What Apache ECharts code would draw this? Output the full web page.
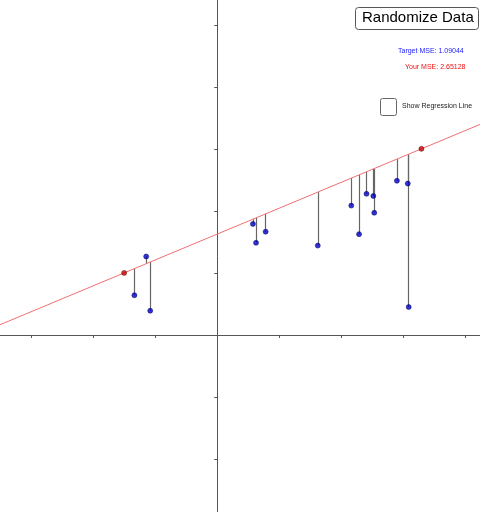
<!DOCTYPE html>
<html>
<head>
<meta charset="utf-8">
<script src="https://cdn.jsdelivr.net/npm/echarts@6/dist/echarts.min.js"></script>
<style>
  html, body { margin: 0; padding: 0; background: #fff; }
  #chart { width: 480px; height: 512px; }
</style>
</head>
<body>
<div id="chart"></div>
<script>
// data points
const pointX = [-2.67, -2.29, -2.16, 1.15, 1.25, 1.56, 3.24, 4.32, 4.57, 4.81, 5.03, 5.06, 5.79, 6.14, 6.17];
const pointY = [1.28, 2.53, 0.78, 3.58, 2.97, 3.33, 2.88, 4.17, 3.25, 4.55, 4.48, 3.94, 4.97, 4.88, 0.90];
// the two red handles defining the user's line
const handleX = [-3, 6.58];
const handleY = [2, 6];

const slope = (handleY[1] - handleY[0]) / (handleX[1] - handleX[0]);
const lineAt = (x) => handleY[0] + slope * (x - handleX[0]);

// axis ranges start beyond the view (grid pulled off-canvas) so ticks fall on even numbers
const xMin = -8, xMax = 8.5, yMin = -6, yMax = 10.8;

var chart = echarts.init(document.getElementById("chart"));

const axisStyle = { lineStyle: { color: "#555", width: 1 }, onZero: true };
const fmt = (v) => (v === 0 ? "" : v < 0 ? "\u2212" + (-v) : String(v));

chart.setOption({
  animation: false,
  grid: { left: -31, right: -1, top: 0, bottom: -9, containLabel: false, outerBoundsMode: "none" },
  xAxis: {
    type: "value", min: xMin, max: xMax, interval: 2,
    axisLine: axisStyle,
    axisTick: { show: true, length: 3, lineStyle: { color: "#555" } },
    splitLine: { show: false },
    axisLabel: { fontSize: 6, color: "#333", margin: 5, showMinLabel: false, showMaxLabel: false,
      formatter: (v) => (v === 0 ? "0" : fmt(v)) },
  },
  yAxis: {
    type: "value", min: yMin, max: yMax, interval: 2,
    axisLine: axisStyle,
    axisTick: { show: true, length: 3, lineStyle: { color: "#555" } },
    splitLine: { show: false },
    axisLabel: { fontSize: 6, color: "#333", margin: 5, showMinLabel: false, showMaxLabel: false, formatter: fmt },
  },
  series: [
    {
      // user's line through the handles, spanning the view
      type: "line",
      data: [[-7.1, lineAt(-7.1)], [xMax, lineAt(xMax)]],
      showSymbol: false,
      lineStyle: { color: "#f07070", width: 1 },
      silent: true,
      z: 3,
    },
    {
      // residual segments
      type: "lines",
      coordinateSystem: "cartesian2d",
      data: pointX.map((x, i) => ({ coords: [[x, pointY[i]], [x, lineAt(x)]] })),
      lineStyle: { color: "#666", width: 1.2, opacity: 1 },
      z: 2,
    },
    {
      type: "scatter",
      data: pointX.map((x, i) => [x, pointY[i]]),
      symbolSize: 5,
      itemStyle: { color: "#0000cc", borderColor: "#000055", borderWidth: 0.6 },
      z: 5,
    },
    {
      type: "scatter",
      data: handleX.map((x, i) => [x, handleY[i]]),
      symbolSize: 5,
      itemStyle: { color: "#cc0000", borderColor: "#550000", borderWidth: 0.6 },
      z: 5,
    },
  ],
  graphic: [
    {
      type: "rect", left: 355, top: 7,
      shape: { width: 123, height: 22, r: 3 },
      style: { fill: "#fff", stroke: "#555", lineWidth: 1 },
    },
    {
      type: "text", left: 362, top: 10,
      style: { text: "Randomize Data", fontSize: 15, fill: "#000", fontFamily: "Liberation Sans, Arial" },
    },
    {
      type: "text", left: 398, top: 48,
      style: { text: "Target MSE: 1.09044", fontSize: 7, fill: "#2222ff", fontFamily: "Liberation Sans, Arial" },
    },
    {
      type: "text", left: 405, top: 64,
      style: { text: "Your MSE: 2.65128", fontSize: 7, fill: "#ee1111", fontFamily: "Liberation Sans, Arial" },
    },
    {
      type: "rect", left: 380, top: 98,
      shape: { width: 16, height: 17, r: 2 },
      style: { fill: "#fff", stroke: "#666", lineWidth: 1 },
    },
    {
      type: "text", left: 402, top: 103,
      style: { text: "Show Regression Line", fontSize: 7, fill: "#222", fontFamily: "Liberation Sans, Arial" },
    },
  ],
});
</script>
</body>
</html>
